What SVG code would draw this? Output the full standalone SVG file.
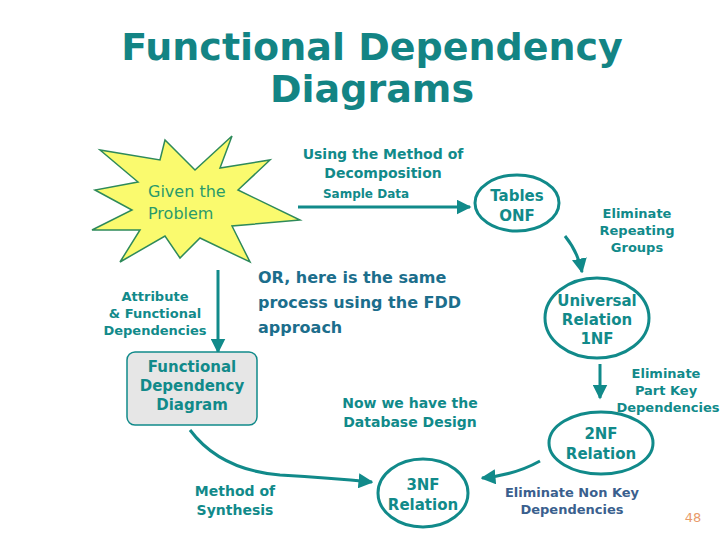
<svg xmlns="http://www.w3.org/2000/svg" width="728" height="546" viewBox="0 0 728 546">
<defs>
<marker id="ah" viewBox="0 0 10 10" refX="9" refY="5" markerWidth="5" markerHeight="5" orient="auto"><path d="M0,0 L10,5 L0,10 z" fill="#118a8a"/></marker>
<style>
.t{font-family:"DejaVu Sans",Verdana,sans-serif;font-weight:bold;fill:#118a8a;text-anchor:middle}
.c{stroke:#118a8a;stroke-width:3;fill:none;marker-end:url(#ah)}
.e{fill:#fff;stroke:#118a8a;stroke-width:3}
</style>
</defs>
<rect width="728" height="546" fill="#fff"/>
<text class="t" x="372" y="60" font-size="38" style="fill:#138484">Functional Dependency</text>
<text class="t" x="372" y="102" font-size="38" style="fill:#138484">Diagrams</text>
<g id="connectors">
<line class="c" x1="298" y1="207" x2="470" y2="207"/>
<path class="c" d="M565,236 Q578,252 582,272"/>
<line class="c" x1="600" y1="364" x2="600" y2="398"/>
<path class="c" d="M540,461 Q515,475 482,478"/>
<line class="c" x1="218" y1="270" x2="218" y2="352"/>
<path class="c" d="M190,430 Q220,470 280,475 Q330,478 372,482"/>
</g>
<g id="star">
<polygon points="232,136 220,168 270,160 238,190 300,220 232,226 250,262 200,238 180,258 165,236 120,262 140,230 92,230 132,210 95,190 138,182 100,150 160,160 165,140 195,170" fill="#fafa6e" stroke="#2e8a5a" stroke-width="1.5"/>
<text x="148" y="197" font-family="'DejaVu Sans',Verdana,sans-serif" font-size="16" fill="#2a9a6a">Given the</text>
<text x="148" y="219" font-family="'DejaVu Sans',Verdana,sans-serif" font-size="16" fill="#2a9a6a">Problem</text>
</g>
<g id="tables"><ellipse class="e" cx="517" cy="203" rx="42" ry="28"/>
<text class="t" x="517" y="201" font-size="15">Tables</text><text class="t" x="517" y="221" font-size="15">ONF</text></g>
<g id="universal"><ellipse class="e" cx="597" cy="318" rx="52" ry="40"/>
<text class="t" x="597" y="306" font-size="15">Universal</text><text class="t" x="597" y="325" font-size="15">Relation</text><text class="t" x="597" y="344" font-size="15">1NF</text></g>
<g id="nf2"><ellipse class="e" cx="601" cy="443" rx="52" ry="31"/>
<text class="t" x="601" y="439" font-size="15">2NF</text><text class="t" x="601" y="459" font-size="15">Relation</text></g>
<g id="nf3"><ellipse class="e" cx="423" cy="493" rx="45" ry="34"/>
<text class="t" x="423" y="490" font-size="15">3NF</text><text class="t" x="423" y="510" font-size="15">Relation</text></g>
<g id="fdd"><rect x="127" y="352" width="130" height="73" rx="8" fill="#e6e6e6" stroke="#118a8a" stroke-width="1.5"/>
<text class="t" x="192" y="372" font-size="15">Functional</text><text class="t" x="192" y="391" font-size="15">Dependency</text><text class="t" x="192" y="410" font-size="15">Diagram</text></g>
<g id="labels">
<text class="t" x="383" y="159" font-size="14">Using the Method of</text>
<text class="t" x="383" y="178" font-size="14">Decomposition</text>
<text class="t" x="366" y="198" font-size="12">Sample Data</text>
<text class="t" x="637" y="218" font-size="13">Eliminate</text><text class="t" x="637" y="235" font-size="13">Repeating</text><text class="t" x="637" y="252" font-size="13">Groups</text>
<text x="258" y="283" font-family="'DejaVu Sans',Verdana,sans-serif" font-weight="bold" font-size="16" fill="#1c6e8c">OR, here is the same</text>
<text x="258" y="308" font-family="'DejaVu Sans',Verdana,sans-serif" font-weight="bold" font-size="16" fill="#1c6e8c">process using the FDD</text>
<text x="258" y="333" font-family="'DejaVu Sans',Verdana,sans-serif" font-weight="bold" font-size="16" fill="#1c6e8c">approach</text>
<text class="t" x="155" y="301" font-size="13">Attribute</text><text class="t" x="155" y="318" font-size="13">&amp; Functional</text><text class="t" x="155" y="335" font-size="13">Dependencies</text>
<text class="t" x="666" y="378" font-size="13">Eliminate</text><text class="t" x="666" y="395" font-size="13">Part Key</text><text class="t" x="668" y="412" font-size="13">Dependencies</text>
<text class="t" x="410" y="408" font-size="14">Now we have the</text><text class="t" x="410" y="427" font-size="14">Database Design</text>
<text class="t" x="235" y="496" font-size="14">Method of</text><text class="t" x="235" y="515" font-size="14">Synthesis</text>
<text class="t" x="572" y="497" font-size="13" style="fill:#3a5f8e">Eliminate Non Key</text><text class="t" x="572" y="514" font-size="13" style="fill:#3a5f8e">Dependencies</text>
<text x="693" y="522" font-family="'DejaVu Sans',sans-serif" font-size="13" fill="#e89a6a" text-anchor="middle">48</text>
</g>
</svg>
